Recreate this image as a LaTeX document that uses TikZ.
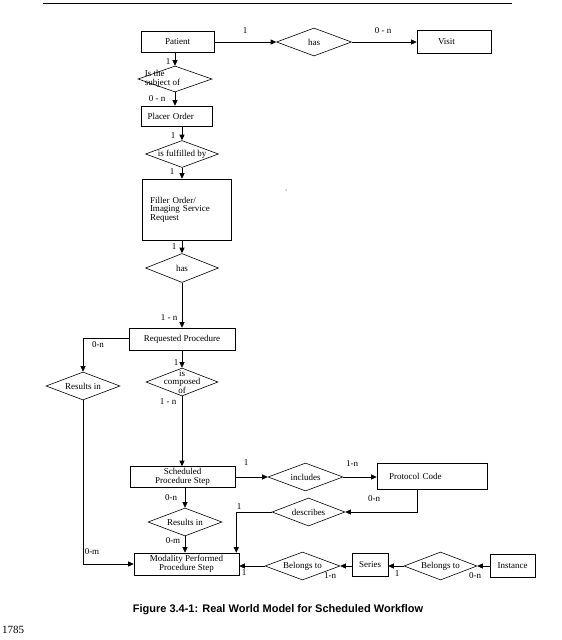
\documentclass[tikz,border=0pt]{standalone}
\usepackage{fontspec}
\setmainfont{Liberation Serif}
\newfontfamily\capfont{Liberation Sans}
\usetikzlibrary{shapes.geometric,arrows.meta,calc}
\begin{document}
\begin{tikzpicture}[x=1pt,y=-1pt,
  txt/.style={font=\fontsize{9pt}{8.6pt}\selectfont},
  box/.style={draw, line width=0.6pt, inner sep=0pt, align=center, txt},
  rel/.style={draw, diamond, line width=0.6pt, inner sep=0pt, minimum width=74pt, minimum height=28pt},
  dtext/.style={txt, align=center, inner sep=0pt},
  card/.style={txt, inner sep=0pt},
  conn/.style={line width=0.6pt, -{Triangle[length=5.5pt,width=5pt]}}]
\useasboundingbox (0,0) rectangle (562,640);
\draw[line width=1.2pt] (43,3.5) -- (512,3.5);

% entities
\node[box, minimum width=73pt, minimum height=21pt] (patient) at (177.5,42) {Patient};
\node[box, minimum width=74pt, minimum height=23pt, text width=32pt, align=left] (visit) at (454,42) {Visit};
\node[box, minimum width=71pt, minimum height=20pt, text width=58pt, align=left] (placer) at (176.5,116) {Placer Order};
\node[box, minimum width=89pt, minimum height=61pt, text width=73pt, align=left] (filler) at (186.5,209.5) {Filler Order/\\Imaging Service\\Request};
\node[box, minimum width=106pt, minimum height=22pt] (reqp) at (182,339) {Requested Procedure};
\node[box, minimum width=105pt, minimum height=21pt] (sps) at (182.5,477) {Scheduled\\Procedure Step};
\node[box, minimum width=105pt, minimum height=22pt] (mpps) at (186.5,564) {Modality Performed\\Procedure Step};
\node[box, minimum width=110pt, minimum height=26pt, text width=86pt, align=left] (proto) at (432,476) {Protocol Code};
\node[box, minimum width=36pt, minimum height=23pt] (series) at (370,565) {Series};
\node[box, minimum width=45pt, minimum height=23pt] (inst) at (512.5,565.5) {Instance};

% relationships
\node[rel, minimum width=75pt, label={[dtext]center:has}] (has1) at (314,42) {};
\node[rel, minimum height=26pt, label={[dtext,align=left,anchor=west,xshift=7pt]west:Is the\\subject of}] (subj) at (175,79) {};
\node[rel, minimum width=73pt, minimum height=27pt, label={[dtext]center:is fulfilled by}] (fulf) at (182,154) {};
\node[rel, minimum width=73pt, minimum height=29pt, label={[dtext]center:has}] (has2) at (182,268) {};
\node[rel, label={[dtext]center:Results in}] (res1) at (83,386) {};
\node[rel, minimum width=72pt, label={[dtext]center:is\\composed\\of}] (comp) at (182,382) {};
\node[rel, label={[dtext]center:Results in}] (res2) at (185,522) {};
\node[rel, minimum width=75pt, label={[dtext]center:includes}] (incl) at (305.5,477) {};
\node[rel, minimum width=73pt, label={[dtext]center:describes}] (desc) at (308.5,512) {};
\node[rel, minimum width=75pt, label={[dtext]center:Belongs to}] (bel1) at (302.5,566) {};
\node[rel, minimum width=73pt, label={[dtext]center:Belongs to}] (bel2) at (440.5,566) {};

% connectors
\draw[conn] (patient.east) -- (has1.west);
\draw[conn] (has1.east) -- (visit.west);
\draw[conn] (subj.north |- patient.south) -- (subj.north);
\draw[conn] (subj.south) -- (subj.south |- placer.north);
\draw[conn] (fulf.north |- placer.south) -- (fulf.north);
\draw[conn] (fulf.south) -- (fulf.south |- filler.north);
\draw[conn] (has2.north |- filler.south) -- (has2.north);
\draw[conn] (has2.south) -- (reqp.north);
\draw[conn] ([yshift=1pt]reqp.west) -| (res1.north);
\draw[conn] (reqp.south) -- (comp.north);
\draw[conn] (comp.south) -- (comp.south |- sps.north);
\draw[conn] (res1.south) |- (mpps.west);
\draw[conn] (res2.north |- sps.south) -- (res2.north);
\draw[conn] (res2.south) -- (res2.south |- mpps.north);
\draw[conn] (sps.east) -- (incl.west);
\draw[conn] (incl.east) -- (incl.east -| proto.west);
\draw[conn] ($(proto.south)+(-15,0)$) |- (desc.east);
\draw[conn] (desc.west) -| ([xshift=-3pt]mpps.north east);
\draw[conn] (bel1.west) -- (bel1.west -| mpps.east);
\draw[conn] (bel1.east -| series.west) -- (bel1.east);
\draw[conn] (bel2.west) -- (bel2.west -| series.east);
\draw[conn] (bel2.east -| inst.west) -- (bel2.east);

% cardinalities
\node[card] (c1) at (245,31) {1};
\node[card] (c2) at (383,31) {0 - n};
\node[card] (c3) at (168,62) {1};
\node[card] (c4) at (157,99) {0 - n};
\node[card] (c5) at (173,136) {1};
\node[card] (c6) at (172,172) {1};
\node[card] (c7) at (174,247) {1};
\node[card] (c8) at (169,318) {1 - n};
\node[card] (c9) at (98,344.5) {0-n};
\node[card] (c10) at (176,363) {1};
\node[card] (c11) at (168,402) {1 - n};
\node[card] (c12) at (246,463) {1};
\node[card] (c13) at (352,464) {1-n};
\node[card] (c14) at (374,499) {0-n};
\node[card] (c15) at (171,498) {0-n};
\node[card] (c16) at (239,507) {1};
\node[card] (c17) at (173,541) {0-m};
\node[card] (c18) at (92,552) {0-m};
\node[card] (c19) at (244,573) {1};
\node[card] (c20) at (330,576) {1-n};
\node[card] (c21) at (397,574) {1};
\node[card] (c22) at (475,576) {0-n};

\fill (286,190) circle (0.5pt);

\node[font=\capfont\bfseries\fontsize{11pt}{11pt}\selectfont, inner sep=0pt] (cap) at (278,610) {Figure 3.4-1: Real World Model for Scheduled Workflow};
\node[font=\fontsize{11pt}{11pt}\selectfont, inner sep=0pt] (num) at (13,630) {1785};
\end{tikzpicture}
\end{document}
